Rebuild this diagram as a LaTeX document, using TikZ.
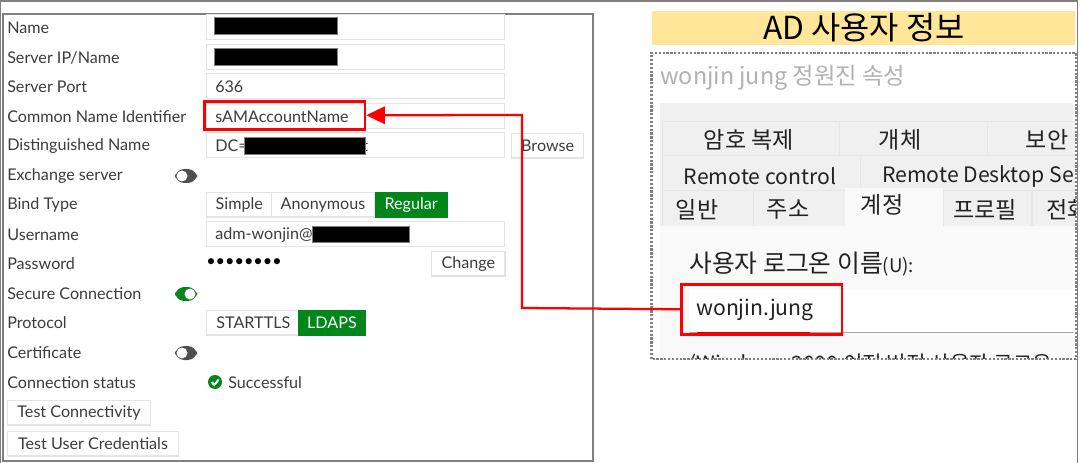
\documentclass[tikz,border=0pt]{standalone}
\usepackage{fontspec}
\setmainfont{Lato}
\newfontfamily\krfont{Noto Sans CJK KR}
\usetikzlibrary{arrows.meta}
\definecolor{ink}{HTML}{3C3C3C}
\definecolor{fieldline}{HTML}{E4E4E4}
\definecolor{frameline}{HTML}{7F7F7F}
\definecolor{fgreen}{HTML}{00861A}
\definecolor{togglegray}{HTML}{4F4F4F}
\definecolor{headyellow}{HTML}{FFE699}
\definecolor{tabgray}{HTML}{F0F0F0}
\definecolor{panelwhite}{HTML}{F9F9F9}
\definecolor{tabline}{HTML}{E6E6E6}
\definecolor{kink}{HTML}{222222}
\tikzset{
  lbl/.style={anchor=west,inner sep=0pt,yshift=-0.5pt,text=ink,font=\fontsize{12.1}{14}\selectfont},
  field/.style={draw=fieldline,line width=1pt,fill=white,anchor=west,minimum height=18.5pt,inner sep=0pt},
  btn/.style={field,yshift=-0.5pt,text=ink,font=\fontsize{12.1}{14}\selectfont},
  onbtn/.style={btn,fill=fgreen,draw=fgreen,text=white},
  blackout/.style={fill=black,draw=frameline,line width=0.8pt,anchor=west,inner sep=0pt,minimum height=12.4pt},
  redbox/.style={draw=red,line width=1.9pt,fill=none,anchor=north west,inner sep=0pt},
  kr/.style={inner sep=0pt,text=kink,font=\krfont\fontsize{17.3}{20}\selectfont},
  la/.style={inner sep=0pt,text=kink,font=\krfont\fontsize{15.9}{20}\selectfont},
  tab/.style={fill=tabgray,draw=tabline,line width=0.6pt,anchor=north west,inner sep=0pt},
}
\newcommand{\toggleoff}[1]{%
  \fill[togglegray,rounded corners=7] (175,#1-7) rectangle (197,#1+7);
  \fill[white] (182,#1) circle[radius=5.5];}
\begin{document}
\begin{tikzpicture}[x=0.75pt,y=-0.75pt]
\useasboundingbox (0,0) rectangle (1080,463);
\fill[white] (0,0) rectangle (1080,463);
\draw[frameline,line width=1pt] (0.5,463) -- (0.5,1) -- (1077.5,1) -- (1077.5,463);
\draw[frameline,line width=2pt] (3,14) rectangle (593,461);

% left labels
\node[lbl] (lname) at (7,27) {Name};
\node[lbl] (lip) at (7,57) {Server IP/Name};
\node[lbl] (lport) at (7,86) {Server Port};
\node[lbl] (lcn) at (7,116) {Common Name Identifier};
\node[lbl] (ldn) at (7,145) {Distinguished Name};
\node[lbl] (lex) at (7,175) {Exchange server};
\node[lbl] (lbind) at (7,204) {Bind Type};
\node[lbl] (luser) at (7,234) {Username};
\node[lbl] (lpass) at (7,263) {Password};
\node[lbl] (lsec) at (7,293) {Secure Connection};
\node[lbl] (lproto) at (7,322) {Protocol};
\node[lbl] (lcert) at (7,352) {Certificate};
\node[lbl] (lstat) at (7,382) {Connection status};

% fields
\node[field,minimum width=223.5pt] (fname) at (206,27) {};
\node[field,minimum width=223.5pt] (fip) at (206,57) {};
\node[field,minimum width=223.5pt] (fport) at (206,86) {};
\node[field,minimum width=223.5pt] (fcn) at (206,116) {};
\node[field,minimum width=223.5pt] (fdn) at (206,145) {};
\node[field,minimum width=223.5pt] (fuser) at (206,234) {};
\node[lbl] (tport) at (215,86) {636};
\node[lbl] (tcn) at (215,116) {sAMAccountName};
\node[lbl] (tdn) at (215,145) {DC=};
\node[lbl] (tdn2) at (362,145) {t};
\node[lbl] (tuser) at (215,234) {adm-wonjin@};
\node[blackout,minimum width=92pt] (b1) at (214,26) {};
\node[blackout,minimum width=92pt] (b2) at (214,57) {};
\node[blackout,minimum width=91pt] (b3) at (244,146) {};
\node[blackout,minimum width=73pt] (b4) at (312,234.5) {};
\node[btn,minimum width=54pt] (browse) at (511,145) {Browse};

% toggles
\toggleoff{176}
\toggleoff{353}
\fill[fgreen,rounded corners=7] (175,287) rectangle (197,301);
\fill[white] (190,294) circle[radius=5.5];

% button groups
\node[btn,minimum width=49pt] (simple) at (206,204) {Simple};
\node[btn,minimum width=77pt] (anon) at (271,204) {Anonymous};
\node[onbtn,minimum width=54pt] (regular) at (374.5,204) {Regular};
\node[btn,minimum width=55pt] (change) at (431,263) {Change};
\node[btn,minimum width=70pt] (starttls) at (206,322) {STARTTLS};
\node[onbtn,minimum width=50pt] (ldaps) at (298,322) {LDAPS};
\node[anchor=west,inner sep=0pt,text=black,font=\fontsize{12.2}{14}\selectfont] (dots) at (206,263) {\char"2022\char"2022\char"2022\char"2022\char"2022\char"2022\char"2022\char"2022};

% status
\fill[fgreen] (215,382) circle[radius=7];
\draw[white,line width=1.5pt] (211.5,382) -- (214.3,385) -- (218.7,379.5);
\node[lbl] (tsucc) at (228,382) {Successful};
\node[btn,minimum width=107pt] (tconn) at (7,412) {Test Connectivity};
\node[btn,minimum width=128pt] (tcred) at (7,443) {Test User Credentials};

% right side
\node[fill=headyellow,anchor=north west,inner sep=0pt,minimum width=317pt,minimum height=25.5pt] (head) at (652,11) {};
\node[inner sep=0pt,text=black,font=\krfont\fontsize{23.8}{25}\selectfont] (thead) at (864,28) {AD 사용자 정보};

\begin{scope}
\clip (651,52) rectangle (1075,360);
\fill[tabgray] (660,103) rectangle (1073,360);
\node[tab,minimum width=132.5pt,minimum height=26pt] (t1a) at (662,121) {};
\node[tab,minimum width=111pt,minimum height=26pt] (t1b) at (839,121) {};
\node[tab,minimum width=70pt,minimum height=26pt] (t1c) at (987,121) {};
\node[tab,minimum width=148.5pt,minimum height=26pt] (t2a) at (662,155) {};
\node[tab,minimum width=170pt,minimum height=26pt] (t2b) at (860,155) {};
\node[tab,minimum width=68pt,minimum height=27pt] (t3a) at (662,190) {};
\node[tab,minimum width=69pt,minimum height=27pt] (t3b) at (753,190) {};
\node[tab,minimum width=66pt,minimum height=27pt] (t3d) at (943,190) {};
\node[tab,minimum width=40pt,minimum height=27pt] (t3e) at (1032,190) {};
\fill[panelwhite] (660,226) rectangle (1073,360);
\fill[panelwhite] (845,188) rectangle (943,228);
\node[kr,anchor=center] (k1) at (749,140) {암호 복제};
\node[kr,anchor=center] (k2) at (900,140) {개체};
\node[kr,anchor=center] (k3) at (1047,140) {보안};
\node[la,anchor=center] (k4) at (760,176) {Remote control};
\node[la,anchor=west] (k5) at (882,176) {Remote Desktop Se};
\node[kr,anchor=center] (k6) at (697,210) {일반};
\node[kr,anchor=center] (k7) at (788,210) {주소};
\node[kr,anchor=center] (k8) at (882,205) {계정};
\node[kr,anchor=center] (k9) at (985,210) {프로필};
\node[kr,anchor=west] (k10) at (1046,210) {전화};
\node[kr,anchor=west,font=\krfont\fontsize{18.6}{20}\selectfont] (kuser) at (689,264) {사용자 로그온 이름{\fontsize{14}{20}\selectfont(U):}};
\fill[white] (689,290) rectangle (1073,332);
\draw[gray!70,line width=0.8pt] (689,332.5) -- (1073,332.5);
\node[la,anchor=west] (kwj) at (696,310) {wonjin.jung};
\draw[red!80!black,line width=2.4pt,line cap=round] (698,334) -- (809,334);
\begin{scope}
\clip (651,350) rectangle (1075,358.5);
\node[la,anchor=west] (klegacy) at (689,365) {(Windows 2000 이전 버전 사용자 로그온};
\end{scope}
\end{scope}
\node[inner sep=0pt,anchor=west,text=black!30,font=\krfont\fontsize{17.5}{20}\selectfont] (ktitle) at (660,78) {wonjin jung 정원진 속성};
\draw[gray,line width=1.6pt,dash pattern=on 1.7pt off 1.2pt] (651.5,359) -- (651.5,53) -- (1076,53) -- (1076,359) -- cycle;

% red highlight and connector
\node[redbox,minimum width=120.5pt,minimum height=21pt] (cnbox) at (203,100) {};
\node[redbox,minimum width=120.5pt,minimum height=37.5pt] (wjbox) at (680,283) {};
\coordinate (bendlow) at (522,308);
\coordinate (bendhigh) at (522,115);
\draw[red,line width=1.7pt,-{Triangle[length=14pt,width=13pt]}] (wjbox.west) -- (bendlow) -- (bendhigh) -- (cnbox.east);
\end{tikzpicture}
\end{document}
